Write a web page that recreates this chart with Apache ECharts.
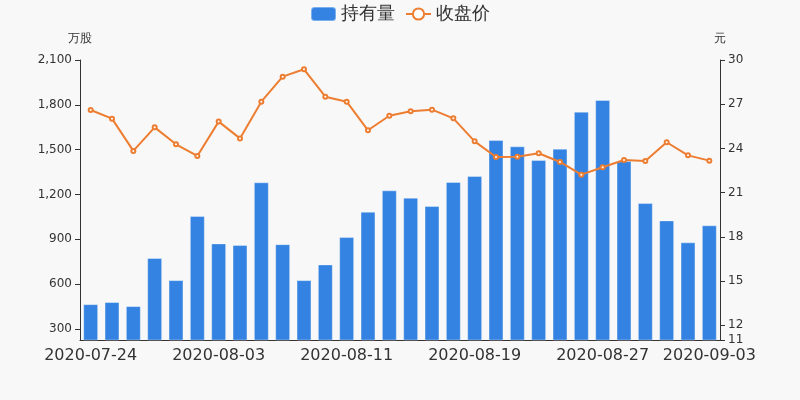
<!DOCTYPE html>
<html>
<head>
<meta charset="utf-8">
<script src="https://cdn.jsdelivr.net/npm/echarts@6/dist/echarts.min.js"></script>
<style>
  html, body { margin: 0; padding: 0; background: #f8f8f8; }
  #main { width: 800px; height: 400px; }
</style>
</head>
<body>
<div id="main"></div>
<script>
// 交易日
var dates = [
  '2020-07-24', '2020-07-27', '2020-07-28', '2020-07-29', '2020-07-30', '2020-07-31',
  '2020-08-03', '2020-08-04', '2020-08-05', '2020-08-06', '2020-08-07', '2020-08-10',
  '2020-08-11', '2020-08-12', '2020-08-13', '2020-08-14', '2020-08-17', '2020-08-18',
  '2020-08-19', '2020-08-20', '2020-08-21', '2020-08-24', '2020-08-25', '2020-08-26',
  '2020-08-27', '2020-08-28', '2020-08-31', '2020-09-01', '2020-09-02', '2020-09-03'
];
// 持有量（万股）
var holding = [
  465, 479, 452, 774, 626, 1055, 872, 861, 1281, 867,
  626, 731, 914, 1084, 1227, 1178, 1122, 1283, 1323, 1564,
  1522, 1430, 1506, 1754, 1832, 1423, 1142, 1026, 879, 993
];
// 收盘价（元）
var closePrice = [
  26.61, 26.02, 23.83, 25.43, 24.28, 23.49, 25.82, 24.68, 27.17, 28.87,
  29.37, 27.51, 27.17, 25.23, 26.22, 26.52, 26.63, 26.04, 24.48, 23.42,
  23.44, 23.67, 23.08, 22.22, 22.72, 23.21, 23.15, 24.42, 23.53, 23.17
];

var chart = echarts.init(document.getElementById('main'));

//只显示每隔6天的日期和最后一天
var lastIdx = dates.length - 1;
function showLabel(index) {
  return index % 6 === 0 || index === lastIdx;
}

var option = {
  backgroundColor: '#f8f8f8',
  textStyle: { fontFamily: 'DejaVu Sans' },
  legend: {
    top: 0,
    left: 'center',
    itemWidth: 25,
    itemHeight: 14,
    itemGap: 10,
    textStyle: { fontSize: 18, color: '#333' },
    data: ['持有量', '收盘价']
  },
  grid: { left: 80, right: 80, top: 60, bottom: 60 },
  xAxis: {
    type: 'category',
    data: dates,
    axisLine: { lineStyle: { color: '#333' } },
    axisTick: { interval: function (i) { return showLabel(i); } },
    axisLabel: {
      interval: function (i) { return showLabel(i); },
      fontSize: 16,
      color: '#333'
    }
  },
  yAxis: [
    {
      type: 'value',
      name: '万股',
      min: 225,
      max: 2100,
      nameTextStyle: { fontSize: 12, color: '#333' },
      axisLine: { show: true, lineStyle: { color: '#333' } },
      axisTick: { show: true },
      splitLine: { show: false },
      axisLabel: { fontSize: 12, color: '#333' }
    },
    {
      type: 'value',
      name: '元',
      min: 11,
      max: 30,
      nameTextStyle: { fontSize: 12, color: '#333' },
      axisLine: { show: true, lineStyle: { color: '#333' } },
      axisTick: { show: true },
      splitLine: { show: false },
      axisLabel: { fontSize: 12, color: '#333' }
    }
  ],
  series: [
    {
      name: '持有量',
      type: 'bar',
      yAxisIndex: 0,
      barWidth: '70%',
      itemStyle: {
        color: '#3483e2',
        borderColor: 'rgba(255,255,255,0.35)',
        borderWidth: 1
      },
      data: holding
    },
    {
      name: '收盘价',
      type: 'line',
      yAxisIndex: 1,
      symbol: 'emptyCircle',
      symbolSize: 4,
      lineStyle: { color: '#ed7d31', width: 2 },
      itemStyle: { color: '#ed7d31', borderWidth: 1 },
      data: closePrice
    }
  ]
};

chart.setOption(option);
</script>
</body>
</html>
